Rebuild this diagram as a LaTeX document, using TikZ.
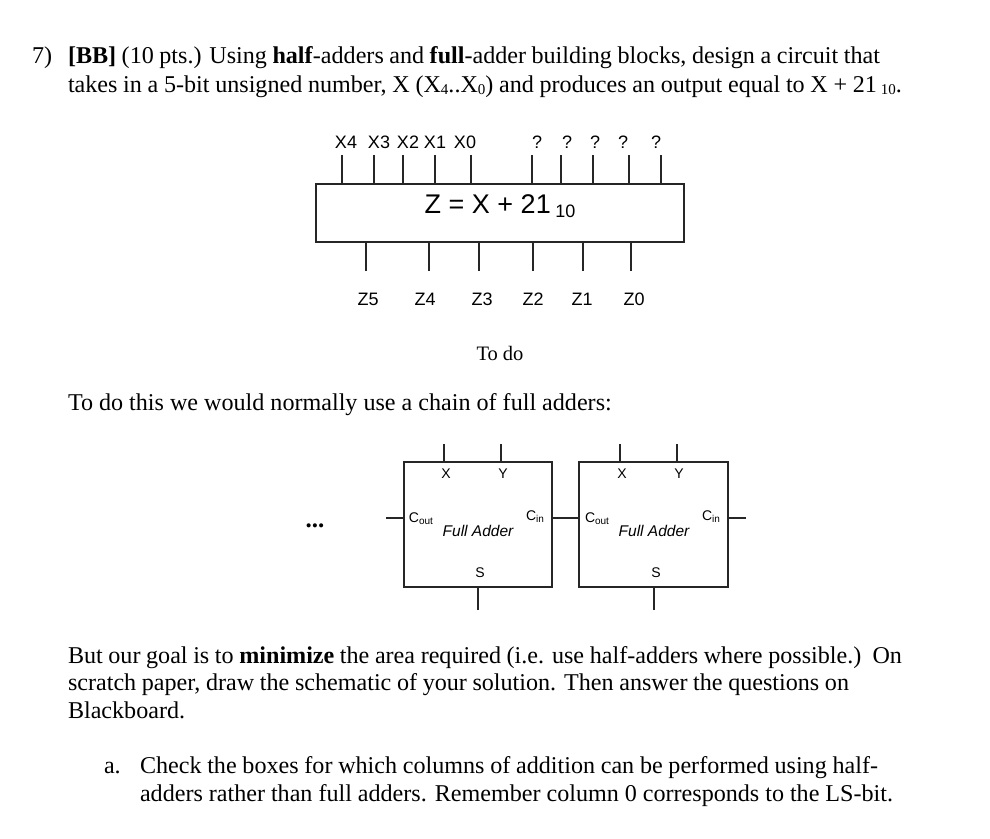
\documentclass[tikz,border=0pt]{standalone}
\usepackage{fontspec}
\setmainfont{Liberation Serif}
\newfontfamily\sansf{Liberation Sans}
\newcommand{\lowsub}[1]{\raisebox{-2pt}{\fontsize{15}{15}\selectfont #1}}
\newcommand{\fitline}[1]{\makebox[834pt][s]{#1}}
\tikzset{
  body/.style={anchor=base west,inner sep=0pt,outer sep=0pt,font=\fontsize{24.1}{26}\selectfont},
  pin/.style={inner sep=0pt,outer sep=0pt,font=\sansf\fontsize{18}{19}\selectfont},
  fapin/.style={inner sep=0pt,outer sep=0pt,font=\sansf\fontsize{14}{15}\selectfont},
  block/.style={draw=black!85,line width=1.4pt,inner sep=0pt,outer sep=0pt},
  wire/.style={draw=black!85,line width=1.3pt}
}
\begin{document}
\begin{tikzpicture}[x=1pt,y=-1pt]
\useasboundingbox[fill=white] (0,0) rectangle (990,838);
% Text
\node[body] (t1a) at (32,63) {7)};
\node[body] (t1) at (68,63) {\makebox[812pt][s]{\textbf{[BB]} (10 pts.) Using \textbf{half}-adders and \textbf{full}-adder building blocks, design a circuit that}};
\node[body] (t2) at (68,92) {\fitline{takes in a 5-bit unsigned number, X (X\lowsub{4}..X\lowsub{0}) and produces an output equal to X + 21\,\lowsub{10}.}};
\node[body,anchor=base,font=\fontsize{20.5}{22}\selectfont] (todo) at (500,360) {To do};
\node[body] (t3) at (68,410) {To do this we would normally use a chain of full adders:};
\node[body] (t4) at (68,663) {\fitline{But our goal is to \textbf{minimize} the area required (i.e. use half-adders where possible.)\ \ On}};
\node[body] (t5) at (68,690) {\makebox[781pt][s]{scratch paper, draw the schematic of your solution. Then answer the questions on}};
\node[body] (t6) at (68,718) {Blackboard.};
\node[body] (a) at (104,773) {a.};
\node[body] (t7) at (140,773) {\makebox[738pt][s]{Check the boxes for which columns of addition can be performed using half-}};
\node[body] (t8) at (140,801) {\makebox[753pt][s]{adders rather than full adders. Remember column 0 corresponds to the LS-bit.}};
% Main block
\node[block,anchor=north west,minimum width=368pt,minimum height=58pt] (zbox) at (316,184) {};
\node[inner sep=0pt,font=\sansf\fontsize{27}{29}\selectfont] (zlab) at (500,206) {Z = X + 21\,\raisebox{-4pt}{\fontsize{18}{18}\selectfont 10}};
% Top pins
\foreach \n/\wx/\lx/\t in {a/342/346/X4,b/374/379/X3,c/403/408/X2,d/435/435/X1,e/471/465/X0,f/532/537/?,g/561/567/?,h/593/595/?,i/629/623/?,j/661/656/?}{
  \node[pin] (lab\n) at (\lx,142) {\t};
  \coordinate (top\n) at (\wx,155);
  \draw[wire] (top\n) -- (top\n |- zbox.north);
}
% Bottom pins
\foreach \n/\wx/\lx/\t in {a/366/368/Z5,b/429/425/Z4,c/479/482/Z3,d/533/533/Z2,e/583/582/Z1,f/631/634/Z0}{
  \node[pin] (zl\n) at (\lx,299) {\t};
  \coordinate (bot\n) at (\wx,271);
  \draw[wire] (bot\n) -- (bot\n |- zbox.south);
}
% Full adders
\node[block,anchor=north west,minimum width=148pt,minimum height=125pt] (fa1) at (404,462) {};
\node[block,anchor=north west,minimum width=149pt,minimum height=125pt] (fa2) at (579,462) {};
\foreach \f/\xa/\xb/\xs/\lx/\ly/\ls/\lc/\li/\lf in {1/444/501/478/446/503/480/421/535/478, 2/620/677/654/622/679/656/597/711/654}{
  \coordinate (x\f) at (\xa,444);
  \coordinate (y\f) at (\xb,444);
  \coordinate (s\f) at (\xs,610);
  \draw[wire] (x\f) -- (x\f |- fa\f.north);
  \draw[wire] (y\f) -- (y\f |- fa\f.north);
  \draw[wire] (s\f) -- (s\f |- fa\f.south);
  \node[fapin] (xl\f) at (\lx,474) {X};
  \node[fapin] (yl\f) at (\ly,474) {Y};
  \node[fapin] (sl\f) at (\ls,573) {S};
  \node[fapin] (co\f) at (\lc,519) {C\raisebox{-2pt}{\fontsize{10}{10}\selectfont out}};
  \node[fapin] (ci\f) at (\li,517) {C\raisebox{-2pt}{\fontsize{10}{10}\selectfont in}};
  \node[inner sep=0pt,font=\sansf\itshape\fontsize{15.5}{16}\selectfont] (fl\f) at (\lf,531) {Full Adder};
}
\coordinate (cl) at (386,518);
\coordinate (cr) at (746,518);
\draw[wire] (cl) -- (cl -| fa1.west);
\draw[wire] (cl -| fa1.east) -- (cl -| fa2.west);
\draw[wire] (cr) -- (cr -| fa2.east);
\node[inner sep=0pt,font=\bfseries\fontsize{25}{25}\selectfont] (dots) at (315,525.5) {...};
\end{tikzpicture}
\end{document}
